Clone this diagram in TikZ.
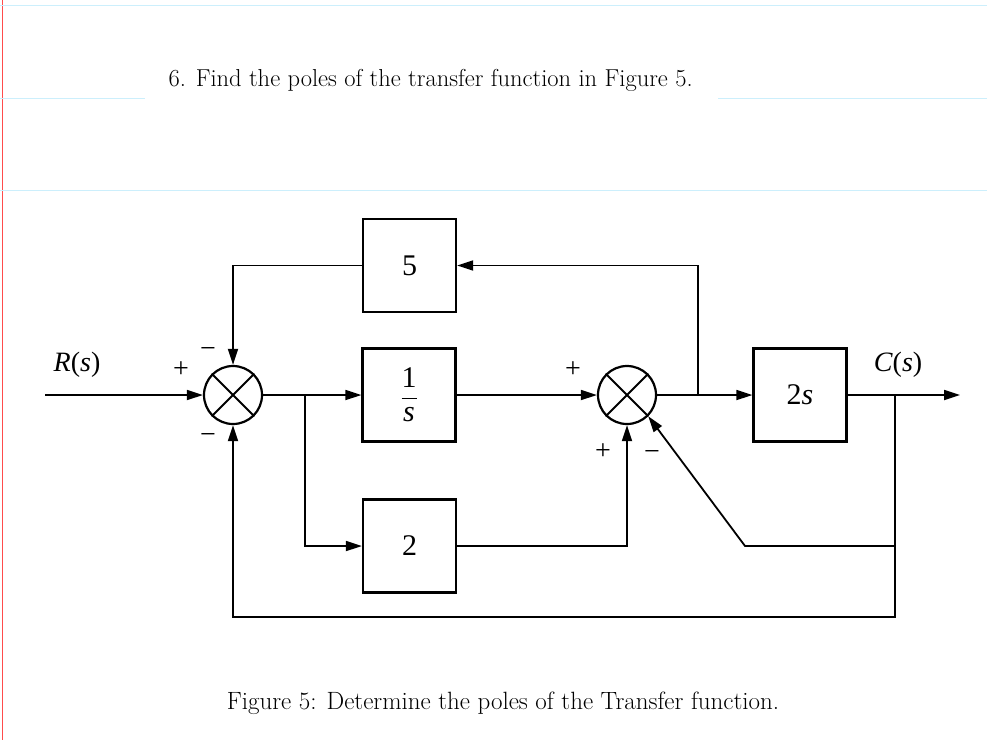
\documentclass[tikz,border=0pt]{standalone}
\usepackage{fontspec}
\newfontfamily\tms{Liberation Serif}
\usetikzlibrary{arrows.meta}
\begin{document}
\begin{tikzpicture}[x=1pt,y=-1pt,
  blk/.style={draw,line width=2.2pt,minimum width=93pt,minimum height=93pt,inner sep=0pt,font=\tms\fontsize{30}{32}\selectfont},
  sumj/.style={draw,line width=2.2pt,circle,minimum size=58pt,inner sep=0pt},
  ln/.style={line width=1.8pt},
  ar/.style={ln,-{Triangle[length=16pt,width=10pt]}},
  sg/.style={font=\tms\fontsize{28}{28}\selectfont},
  guide/.style={draw=cyan!20,line width=0.8pt}]
\useasboundingbox (0,0) rectangle (987,740);
\fill[white] (0,0) rectangle (987,740);
\draw[red!70,line width=1pt] (2,0) -- (2,740);
\draw[guide] (0,5) -- (987,5);
\draw[guide] (0,98) -- (145,98);
\draw[guide] (718,98) -- (987,98);
\draw[guide] (0,190) -- (987,190);
\node[anchor=west,font=\fontsize{24.5}{26}\selectfont] (title) at (165,80) {6. Find the poles of the transfer function in Figure 5.};
\node[font=\fontsize{25}{27}\selectfont] (cap) at (503,703) {Figure 5: Determine the poles of the Transfer function.};

\node[sumj] (s1) at (233,395) {};
\node[sumj] (s2) at (627,395) {};
\foreach \s in {s1,s2}{
  \draw[line width=2pt] (\s.45) -- (\s.225) (\s.135) -- (\s.315);}
\node[blk] (b5) at (409.5,265.5) {5};
\node[blk] (bi) at (409,395) {$\displaystyle\frac{\mbox{1}}{\mbox{\textit{s}}}$};
\node[blk] (b2) at (409.5,546) {2};
\node[blk] (b2s) at (800,395) {2\textit{s}};

\coordinate (in) at (45,395);
\coordinate (out) at (960,395);
\node[font=\tms\fontsize{28}{30}\selectfont] (R) at (77,365) {\textit{R}(\textit{s})};
\node[font=\tms\fontsize{28}{30}\selectfont] (C) at (898,365) {\textit{C}(\textit{s})};

\draw[ar] (in) -- (s1.west);
\draw[ar] (s1.east) -- (bi.west);
\coordinate (p1) at (305,395);
\draw[ar] (p1) |- (b2.west);
\draw[ar] (bi.east) -- (s2.west);
\draw[ar] (b2.east) -| (s2.south);
\draw[ar] (s2.east) -- (b2s.west);
\coordinate (p2) at (698,395);
\draw[ar] (p2) |- (b5.east);
\draw[ar] (b5.west) -| (s1.north);
\draw[ar] (b2s.east) -- (out);
\coordinate (p3) at (895,395);
\coordinate (k) at (745,546);
\draw[ar] (p3) |- (k) -- (s2.-45);
\draw[ar] (p3) |- (233,617) -- (s1.south);

\node[sg] at (181,370) {+};
\node[sg] at (208,352) {\textminus};
\node[sg] at (208,438) {\textminus};
\node[sg] at (573,370) {+};
\node[sg] at (603,452) {+};
\node[sg] at (652,455) {\textminus};
\end{tikzpicture}
\end{document}
